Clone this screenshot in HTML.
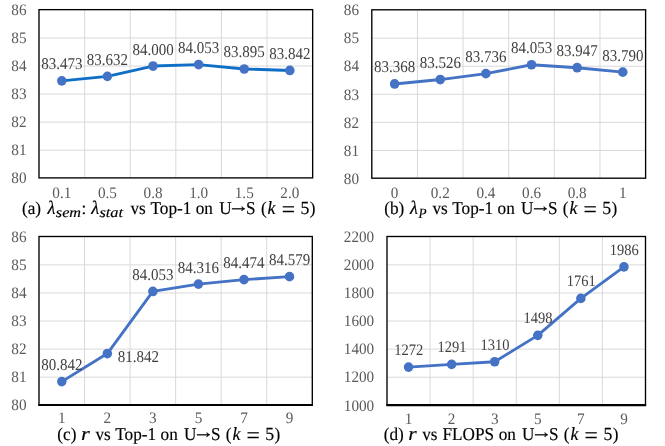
<!DOCTYPE html>
<html><head><meta charset="utf-8"><title>Charts</title>
<style>
html,body{margin:0;padding:0;background:#fff;}
svg{display:block;font-family:"Liberation Serif", "Times New Roman", serif;text-rendering:geometricPrecision;}
</style></head>
<body>
<svg width="665" height="446" viewBox="0 0 665 446">
<rect width="665" height="446" fill="#fff"/>
<line x1="39.00" y1="150.16" x2="312.65" y2="150.16" stroke="#d9d9d9" stroke-width="1"/>
<line x1="39.00" y1="122.12" x2="312.65" y2="122.12" stroke="#d9d9d9" stroke-width="1"/>
<line x1="39.00" y1="94.08" x2="312.65" y2="94.08" stroke="#d9d9d9" stroke-width="1"/>
<line x1="39.00" y1="66.03" x2="312.65" y2="66.03" stroke="#d9d9d9" stroke-width="1"/>
<line x1="39.00" y1="37.99" x2="312.65" y2="37.99" stroke="#d9d9d9" stroke-width="1"/>
<line x1="84.61" y1="9.65" x2="84.61" y2="177.90" stroke="#d9d9d9" stroke-width="1"/>
<line x1="130.22" y1="9.65" x2="130.22" y2="177.90" stroke="#d9d9d9" stroke-width="1"/>
<line x1="175.82" y1="9.65" x2="175.82" y2="177.90" stroke="#d9d9d9" stroke-width="1"/>
<line x1="221.43" y1="9.65" x2="221.43" y2="177.90" stroke="#d9d9d9" stroke-width="1"/>
<line x1="267.04" y1="9.65" x2="267.04" y2="177.90" stroke="#d9d9d9" stroke-width="1"/>
<text transform="translate(26.50,183.40) scale(1,1.05)" text-anchor="end" font-size="15.2" fill="#595959">80</text>
<text transform="translate(26.50,155.36) scale(1,1.05)" text-anchor="end" font-size="15.2" fill="#595959">81</text>
<text transform="translate(26.50,127.32) scale(1,1.05)" text-anchor="end" font-size="15.2" fill="#595959">82</text>
<text transform="translate(26.50,99.28) scale(1,1.05)" text-anchor="end" font-size="15.2" fill="#595959">83</text>
<text transform="translate(26.50,71.23) scale(1,1.05)" text-anchor="end" font-size="15.2" fill="#595959">84</text>
<text transform="translate(26.50,43.19) scale(1,1.05)" text-anchor="end" font-size="15.2" fill="#595959">85</text>
<text transform="translate(26.50,15.15) scale(1,1.05)" text-anchor="end" font-size="15.2" fill="#595959">86</text>
<text transform="translate(61.80,197.80) scale(1,1.05)" text-anchor="middle" font-size="15.2" fill="#595959">0.1</text>
<text transform="translate(107.41,197.80) scale(1,1.05)" text-anchor="middle" font-size="15.2" fill="#595959">0.5</text>
<text transform="translate(153.02,197.80) scale(1,1.05)" text-anchor="middle" font-size="15.2" fill="#595959">0.8</text>
<text transform="translate(198.63,197.80) scale(1,1.05)" text-anchor="middle" font-size="15.2" fill="#595959">1.0</text>
<text transform="translate(244.24,197.80) scale(1,1.05)" text-anchor="middle" font-size="15.2" fill="#595959">1.5</text>
<text transform="translate(289.85,197.80) scale(1,1.05)" text-anchor="middle" font-size="15.2" fill="#595959">2.0</text>
<polyline fill="none" stroke="#0f6fc6" stroke-width="2.85" stroke-linejoin="round" stroke-linecap="round" points="61.80,80.81 107.41,76.35 153.02,66.03 198.63,64.55 244.24,68.98 289.85,70.46"/>
<ellipse cx="61.80" cy="80.81" rx="4.75" ry="4.85" fill="#4472c4"/>
<ellipse cx="107.41" cy="76.35" rx="4.75" ry="4.85" fill="#4472c4"/>
<ellipse cx="153.02" cy="66.03" rx="4.75" ry="4.85" fill="#4472c4"/>
<ellipse cx="198.63" cy="64.55" rx="4.75" ry="4.85" fill="#4472c4"/>
<ellipse cx="244.24" cy="68.98" rx="4.75" ry="4.85" fill="#4472c4"/>
<ellipse cx="289.85" cy="70.46" rx="4.75" ry="4.85" fill="#4472c4"/>
<rect x="39.00" y="9.65" width="273.65" height="168.25" fill="none" stroke="#000" stroke-width="1.35"/>
<text transform="translate(61.80,69.31) scale(1,1.1)" text-anchor="middle" font-size="15.0" fill="#404040">83.473</text>
<text transform="translate(107.41,64.85) scale(1,1.1)" text-anchor="middle" font-size="15.0" fill="#404040">83.632</text>
<text transform="translate(153.02,54.53) scale(1,1.1)" text-anchor="middle" font-size="15.0" fill="#404040">84.000</text>
<text transform="translate(198.63,53.05) scale(1,1.1)" text-anchor="middle" font-size="15.0" fill="#404040">84.053</text>
<text transform="translate(244.24,57.48) scale(1,1.1)" text-anchor="middle" font-size="15.0" fill="#404040">83.895</text>
<text transform="translate(289.85,58.96) scale(1,1.1)" text-anchor="middle" font-size="15.0" fill="#404040">83.842</text>
<line x1="371.80" y1="150.43" x2="645.60" y2="150.43" stroke="#d9d9d9" stroke-width="1"/>
<line x1="371.80" y1="122.37" x2="645.60" y2="122.37" stroke="#d9d9d9" stroke-width="1"/>
<line x1="371.80" y1="94.30" x2="645.60" y2="94.30" stroke="#d9d9d9" stroke-width="1"/>
<line x1="371.80" y1="66.23" x2="645.60" y2="66.23" stroke="#d9d9d9" stroke-width="1"/>
<line x1="371.80" y1="38.17" x2="645.60" y2="38.17" stroke="#d9d9d9" stroke-width="1"/>
<line x1="417.43" y1="9.80" x2="417.43" y2="178.20" stroke="#d9d9d9" stroke-width="1"/>
<line x1="463.07" y1="9.80" x2="463.07" y2="178.20" stroke="#d9d9d9" stroke-width="1"/>
<line x1="508.70" y1="9.80" x2="508.70" y2="178.20" stroke="#d9d9d9" stroke-width="1"/>
<line x1="554.33" y1="9.80" x2="554.33" y2="178.20" stroke="#d9d9d9" stroke-width="1"/>
<line x1="599.97" y1="9.80" x2="599.97" y2="178.20" stroke="#d9d9d9" stroke-width="1"/>
<text transform="translate(359.00,183.70) scale(1,1.05)" text-anchor="end" font-size="15.2" fill="#595959">80</text>
<text transform="translate(359.00,155.63) scale(1,1.05)" text-anchor="end" font-size="15.2" fill="#595959">81</text>
<text transform="translate(359.00,127.57) scale(1,1.05)" text-anchor="end" font-size="15.2" fill="#595959">82</text>
<text transform="translate(359.00,99.50) scale(1,1.05)" text-anchor="end" font-size="15.2" fill="#595959">83</text>
<text transform="translate(359.00,71.43) scale(1,1.05)" text-anchor="end" font-size="15.2" fill="#595959">84</text>
<text transform="translate(359.00,43.37) scale(1,1.05)" text-anchor="end" font-size="15.2" fill="#595959">85</text>
<text transform="translate(359.00,15.30) scale(1,1.05)" text-anchor="end" font-size="15.2" fill="#595959">86</text>
<text transform="translate(394.62,198.20) scale(1,1.05)" text-anchor="middle" font-size="15.2" fill="#595959">0</text>
<text transform="translate(440.25,198.20) scale(1,1.05)" text-anchor="middle" font-size="15.2" fill="#595959">0.2</text>
<text transform="translate(485.88,198.20) scale(1,1.05)" text-anchor="middle" font-size="15.2" fill="#595959">0.4</text>
<text transform="translate(531.52,198.20) scale(1,1.05)" text-anchor="middle" font-size="15.2" fill="#595959">0.6</text>
<text transform="translate(577.15,198.20) scale(1,1.05)" text-anchor="middle" font-size="15.2" fill="#595959">0.8</text>
<text transform="translate(622.78,198.20) scale(1,1.05)" text-anchor="middle" font-size="15.2" fill="#595959">1</text>
<polyline fill="none" stroke="#4472c4" stroke-width="2.85" stroke-linejoin="round" stroke-linecap="round" points="394.62,83.97 440.25,79.54 485.88,73.64 531.52,64.75 577.15,67.72 622.78,72.13"/>
<ellipse cx="394.62" cy="83.97" rx="4.75" ry="4.85" fill="#4472c4"/>
<ellipse cx="440.25" cy="79.54" rx="4.75" ry="4.85" fill="#4472c4"/>
<ellipse cx="485.88" cy="73.64" rx="4.75" ry="4.85" fill="#4472c4"/>
<ellipse cx="531.52" cy="64.75" rx="4.75" ry="4.85" fill="#4472c4"/>
<ellipse cx="577.15" cy="67.72" rx="4.75" ry="4.85" fill="#4472c4"/>
<ellipse cx="622.78" cy="72.13" rx="4.75" ry="4.85" fill="#4472c4"/>
<rect x="371.80" y="9.80" width="273.80" height="168.40" fill="none" stroke="#000" stroke-width="1.35"/>
<text transform="translate(394.62,72.47) scale(1,1.1)" text-anchor="middle" font-size="15.0" fill="#404040">83.368</text>
<text transform="translate(440.25,68.04) scale(1,1.1)" text-anchor="middle" font-size="15.0" fill="#404040">83.526</text>
<text transform="translate(485.88,62.14) scale(1,1.1)" text-anchor="middle" font-size="15.0" fill="#404040">83.736</text>
<text transform="translate(531.52,53.25) scale(1,1.1)" text-anchor="middle" font-size="15.0" fill="#404040">84.053</text>
<text transform="translate(577.15,56.22) scale(1,1.1)" text-anchor="middle" font-size="15.0" fill="#404040">83.947</text>
<text transform="translate(622.78,60.63) scale(1,1.1)" text-anchor="middle" font-size="15.0" fill="#404040">83.790</text>
<line x1="39.00" y1="377.18" x2="312.30" y2="377.18" stroke="#d9d9d9" stroke-width="1"/>
<line x1="39.00" y1="349.10" x2="312.30" y2="349.10" stroke="#d9d9d9" stroke-width="1"/>
<line x1="39.00" y1="321.03" x2="312.30" y2="321.03" stroke="#d9d9d9" stroke-width="1"/>
<line x1="39.00" y1="292.95" x2="312.30" y2="292.95" stroke="#d9d9d9" stroke-width="1"/>
<line x1="39.00" y1="264.88" x2="312.30" y2="264.88" stroke="#d9d9d9" stroke-width="1"/>
<line x1="84.55" y1="236.50" x2="84.55" y2="404.95" stroke="#d9d9d9" stroke-width="1"/>
<line x1="130.10" y1="236.50" x2="130.10" y2="404.95" stroke="#d9d9d9" stroke-width="1"/>
<line x1="175.65" y1="236.50" x2="175.65" y2="404.95" stroke="#d9d9d9" stroke-width="1"/>
<line x1="221.20" y1="236.50" x2="221.20" y2="404.95" stroke="#d9d9d9" stroke-width="1"/>
<line x1="266.75" y1="236.50" x2="266.75" y2="404.95" stroke="#d9d9d9" stroke-width="1"/>
<text transform="translate(26.50,410.45) scale(1,1.05)" text-anchor="end" font-size="15.2" fill="#595959">80</text>
<text transform="translate(26.50,382.38) scale(1,1.05)" text-anchor="end" font-size="15.2" fill="#595959">81</text>
<text transform="translate(26.50,354.30) scale(1,1.05)" text-anchor="end" font-size="15.2" fill="#595959">82</text>
<text transform="translate(26.50,326.23) scale(1,1.05)" text-anchor="end" font-size="15.2" fill="#595959">83</text>
<text transform="translate(26.50,298.15) scale(1,1.05)" text-anchor="end" font-size="15.2" fill="#595959">84</text>
<text transform="translate(26.50,270.07) scale(1,1.05)" text-anchor="end" font-size="15.2" fill="#595959">85</text>
<text transform="translate(26.50,242.00) scale(1,1.05)" text-anchor="end" font-size="15.2" fill="#595959">86</text>
<text transform="translate(61.78,423.45) scale(1,1.05)" text-anchor="middle" font-size="15.2" fill="#595959">1</text>
<text transform="translate(107.33,423.45) scale(1,1.05)" text-anchor="middle" font-size="15.2" fill="#595959">2</text>
<text transform="translate(152.88,423.45) scale(1,1.05)" text-anchor="middle" font-size="15.2" fill="#595959">3</text>
<text transform="translate(198.43,423.45) scale(1,1.05)" text-anchor="middle" font-size="15.2" fill="#595959">5</text>
<text transform="translate(243.98,423.45) scale(1,1.05)" text-anchor="middle" font-size="15.2" fill="#595959">7</text>
<text transform="translate(289.53,423.45) scale(1,1.05)" text-anchor="middle" font-size="15.2" fill="#595959">9</text>
<polyline fill="none" stroke="#4472c4" stroke-width="2.85" stroke-linejoin="round" stroke-linecap="round" points="61.78,381.61 107.33,353.54 152.88,291.46 198.43,284.08 243.98,279.64 289.53,276.69"/>
<ellipse cx="61.78" cy="381.61" rx="4.75" ry="4.85" fill="#4472c4"/>
<ellipse cx="107.33" cy="353.54" rx="4.75" ry="4.85" fill="#4472c4"/>
<ellipse cx="152.88" cy="291.46" rx="4.75" ry="4.85" fill="#4472c4"/>
<ellipse cx="198.43" cy="284.08" rx="4.75" ry="4.85" fill="#4472c4"/>
<ellipse cx="243.98" cy="279.64" rx="4.75" ry="4.85" fill="#4472c4"/>
<ellipse cx="289.53" cy="276.69" rx="4.75" ry="4.85" fill="#4472c4"/>
<rect x="39.00" y="236.50" width="273.30" height="168.45" fill="none" stroke="#000" stroke-width="1.35"/>
<line x1="38.33" y1="405.00" x2="312.97" y2="405.00" stroke="#000" stroke-width="2.0"/>
<text transform="translate(61.78,370.11) scale(1,1.1)" text-anchor="middle" font-size="15.0" fill="#404040">80.842</text>
<text transform="translate(117.83,361.84) scale(1,1.1)" text-anchor="start" font-size="15.0" fill="#404040">81.842</text>
<text transform="translate(152.88,279.96) scale(1,1.1)" text-anchor="middle" font-size="15.0" fill="#404040">84.053</text>
<text transform="translate(198.43,272.58) scale(1,1.1)" text-anchor="middle" font-size="15.0" fill="#404040">84.316</text>
<text transform="translate(243.98,268.14) scale(1,1.1)" text-anchor="middle" font-size="15.0" fill="#404040">84.474</text>
<text transform="translate(289.53,265.19) scale(1,1.1)" text-anchor="middle" font-size="15.0" fill="#404040">84.579</text>
<line x1="387.00" y1="377.22" x2="645.50" y2="377.22" stroke="#d9d9d9" stroke-width="1"/>
<line x1="387.00" y1="349.13" x2="645.50" y2="349.13" stroke="#d9d9d9" stroke-width="1"/>
<line x1="387.00" y1="321.05" x2="645.50" y2="321.05" stroke="#d9d9d9" stroke-width="1"/>
<line x1="387.00" y1="292.97" x2="645.50" y2="292.97" stroke="#d9d9d9" stroke-width="1"/>
<line x1="387.00" y1="264.88" x2="645.50" y2="264.88" stroke="#d9d9d9" stroke-width="1"/>
<line x1="430.08" y1="236.50" x2="430.08" y2="405.00" stroke="#d9d9d9" stroke-width="1"/>
<line x1="473.17" y1="236.50" x2="473.17" y2="405.00" stroke="#d9d9d9" stroke-width="1"/>
<line x1="516.25" y1="236.50" x2="516.25" y2="405.00" stroke="#d9d9d9" stroke-width="1"/>
<line x1="559.33" y1="236.50" x2="559.33" y2="405.00" stroke="#d9d9d9" stroke-width="1"/>
<line x1="602.42" y1="236.50" x2="602.42" y2="405.00" stroke="#d9d9d9" stroke-width="1"/>
<text transform="translate(374.20,410.50) scale(1,1.05)" text-anchor="end" font-size="15.2" fill="#595959">1000</text>
<text transform="translate(374.20,382.42) scale(1,1.05)" text-anchor="end" font-size="15.2" fill="#595959">1200</text>
<text transform="translate(374.20,354.33) scale(1,1.05)" text-anchor="end" font-size="15.2" fill="#595959">1400</text>
<text transform="translate(374.20,326.25) scale(1,1.05)" text-anchor="end" font-size="15.2" fill="#595959">1600</text>
<text transform="translate(374.20,298.17) scale(1,1.05)" text-anchor="end" font-size="15.2" fill="#595959">1800</text>
<text transform="translate(374.20,270.08) scale(1,1.05)" text-anchor="end" font-size="15.2" fill="#595959">2000</text>
<text transform="translate(374.20,242.00) scale(1,1.05)" text-anchor="end" font-size="15.2" fill="#595959">2200</text>
<text transform="translate(408.54,424.20) scale(1,1.05)" text-anchor="middle" font-size="15.2" fill="#595959">1</text>
<text transform="translate(451.62,424.20) scale(1,1.05)" text-anchor="middle" font-size="15.2" fill="#595959">2</text>
<text transform="translate(494.71,424.20) scale(1,1.05)" text-anchor="middle" font-size="15.2" fill="#595959">3</text>
<text transform="translate(537.79,424.20) scale(1,1.05)" text-anchor="middle" font-size="15.2" fill="#595959">5</text>
<text transform="translate(580.88,424.20) scale(1,1.05)" text-anchor="middle" font-size="15.2" fill="#595959">7</text>
<text transform="translate(623.96,424.20) scale(1,1.05)" text-anchor="middle" font-size="15.2" fill="#595959">9</text>
<polyline fill="none" stroke="#4472c4" stroke-width="2.85" stroke-linejoin="round" stroke-linecap="round" points="408.54,367.11 451.62,364.44 494.71,361.77 537.79,335.37 580.88,298.44 623.96,266.85"/>
<ellipse cx="408.54" cy="367.11" rx="4.75" ry="4.85" fill="#4472c4"/>
<ellipse cx="451.62" cy="364.44" rx="4.75" ry="4.85" fill="#4472c4"/>
<ellipse cx="494.71" cy="361.77" rx="4.75" ry="4.85" fill="#4472c4"/>
<ellipse cx="537.79" cy="335.37" rx="4.75" ry="4.85" fill="#4472c4"/>
<ellipse cx="580.88" cy="298.44" rx="4.75" ry="4.85" fill="#4472c4"/>
<ellipse cx="623.96" cy="266.85" rx="4.75" ry="4.85" fill="#4472c4"/>
<rect x="387.00" y="236.50" width="258.50" height="168.50" fill="none" stroke="#000" stroke-width="1.35"/>
<line x1="386.33" y1="405.10" x2="646.17" y2="405.10" stroke="#000" stroke-width="2.1"/>
<text transform="translate(408.84,355.11) scale(1,1.1)" text-anchor="middle" font-size="14.5" fill="#404040">1272</text>
<text transform="translate(451.93,352.44) scale(1,1.1)" text-anchor="middle" font-size="14.5" fill="#404040">1291</text>
<text transform="translate(495.01,349.77) scale(1,1.1)" text-anchor="middle" font-size="14.5" fill="#404040">1310</text>
<text transform="translate(538.09,323.37) scale(1,1.1)" text-anchor="middle" font-size="14.5" fill="#404040">1498</text>
<text transform="translate(581.17,286.44) scale(1,1.1)" text-anchor="middle" font-size="14.5" fill="#404040">1761</text>
<text transform="translate(624.26,254.85) scale(1,1.1)" text-anchor="middle" font-size="14.5" fill="#404040">1986</text>
<text transform="translate(22.00,213.90) scale(1,1.05)" text-anchor="start" font-size="17.2" fill="#000" stroke="#000" stroke-width="0.15">(a)</text>
<text transform="translate(47.55,213.90) scale(1,1.05)" text-anchor="start" font-size="18.2" fill="#000" stroke="#000" stroke-width="0.15" font-style="italic">λ</text>
<text transform="translate(55.84,216.90) scale(1,1.05)" text-anchor="start" font-size="13.6" fill="#000" stroke="#000" stroke-width="0.15" font-style="italic" textLength="25.20" lengthAdjust="spacingAndGlyphs">sem</text>
<text transform="translate(81.59,213.90) scale(1,1.05)" text-anchor="start" font-size="17.2" fill="#000" stroke="#000" stroke-width="0.15">:</text>
<text transform="translate(91.25,213.90) scale(1,1.05)" text-anchor="start" font-size="18.2" fill="#000" stroke="#000" stroke-width="0.15" font-style="italic">λ</text>
<text transform="translate(99.39,216.90) scale(1,1.05)" text-anchor="start" font-size="13.6" fill="#000" stroke="#000" stroke-width="0.15" font-style="italic" textLength="23.67" lengthAdjust="spacingAndGlyphs">stat</text>
<text transform="translate(130.44,213.90) scale(1,1.05)" text-anchor="start" font-size="17.2" fill="#000" stroke="#000" stroke-width="0.15">vs</text>
<text transform="translate(150.51,213.90) scale(1,1.05)" text-anchor="start" font-size="17.2" fill="#000" stroke="#000" stroke-width="0.15">Top-1</text>
<text transform="translate(195.78,213.90) scale(1,1.05)" text-anchor="start" font-size="17.2" fill="#000" stroke="#000" stroke-width="0.15">on</text>
<text transform="translate(219.16,213.90) scale(1,1.05)" text-anchor="start" font-size="17.2" fill="#000" stroke="#000" stroke-width="0.15">U</text>
<text x="227.63" y="212.00" text-anchor="start" font-size="19.5" fill="#000" stroke="#000" stroke-width="0.15" textLength="21.86" lengthAdjust="spacingAndGlyphs">→</text>
<text transform="translate(246.08,213.90) scale(1,1.05)" text-anchor="start" font-size="17.2" fill="#000" stroke="#000" stroke-width="0.15">S</text>
<text transform="translate(260.90,213.90) scale(1,1.05)" text-anchor="start" font-size="17.2" fill="#000" stroke="#000" stroke-width="0.15">(</text>
<text transform="translate(267.59,213.90) scale(1,1.05)" text-anchor="start" font-size="17.8" fill="#000" stroke="#000" stroke-width="0.15" font-style="italic">k</text>
<text transform="translate(281.72,216.80) scale(1,1.38)" text-anchor="start" font-size="17.2" fill="#000" stroke="#000" stroke-width="0.15" textLength="13.32" lengthAdjust="spacingAndGlyphs">=</text>
<text transform="translate(300.52,213.90) scale(1,1.05)" text-anchor="start" font-size="17.8" fill="#000" stroke="#000" stroke-width="0.15">5</text>
<text transform="translate(309.82,213.90) scale(1,1.05)" text-anchor="start" font-size="17.2" fill="#000" stroke="#000" stroke-width="0.15">)</text>
<text transform="translate(384.27,213.90) scale(1,1.05)" text-anchor="start" font-size="17.2" fill="#000" stroke="#000" stroke-width="0.15">(b)</text>
<text transform="translate(409.95,213.90) scale(1,1.05)" text-anchor="start" font-size="18.2" fill="#000" stroke="#000" stroke-width="0.15" font-style="italic">λ</text>
<text transform="translate(418.60,217.70) scale(1,1.05)" text-anchor="start" font-size="13.5" fill="#000" stroke="#000" stroke-width="0.15" font-style="italic" textLength="8.08" lengthAdjust="spacingAndGlyphs">P</text>
<text transform="translate(432.44,213.90) scale(1,1.05)" text-anchor="start" font-size="17.2" fill="#000" stroke="#000" stroke-width="0.15">vs</text>
<text transform="translate(452.31,213.90) scale(1,1.05)" text-anchor="start" font-size="17.2" fill="#000" stroke="#000" stroke-width="0.15">Top-1</text>
<text transform="translate(497.58,213.90) scale(1,1.05)" text-anchor="start" font-size="17.2" fill="#000" stroke="#000" stroke-width="0.15">on</text>
<text transform="translate(520.96,213.90) scale(1,1.05)" text-anchor="start" font-size="17.2" fill="#000" stroke="#000" stroke-width="0.15">U</text>
<text x="529.43" y="212.00" text-anchor="start" font-size="19.5" fill="#000" stroke="#000" stroke-width="0.15" textLength="21.86" lengthAdjust="spacingAndGlyphs">→</text>
<text transform="translate(547.88,213.90) scale(1,1.05)" text-anchor="start" font-size="17.2" fill="#000" stroke="#000" stroke-width="0.15">S</text>
<text transform="translate(562.70,213.90) scale(1,1.05)" text-anchor="start" font-size="17.2" fill="#000" stroke="#000" stroke-width="0.15">(</text>
<text transform="translate(569.39,213.90) scale(1,1.05)" text-anchor="start" font-size="17.8" fill="#000" stroke="#000" stroke-width="0.15" font-style="italic">k</text>
<text transform="translate(583.52,216.80) scale(1,1.38)" text-anchor="start" font-size="17.2" fill="#000" stroke="#000" stroke-width="0.15" textLength="13.32" lengthAdjust="spacingAndGlyphs">=</text>
<text transform="translate(602.32,213.90) scale(1,1.05)" text-anchor="start" font-size="17.8" fill="#000" stroke="#000" stroke-width="0.15">5</text>
<text transform="translate(611.62,213.90) scale(1,1.05)" text-anchor="start" font-size="17.2" fill="#000" stroke="#000" stroke-width="0.15">)</text>
<text transform="translate(57.30,439.90) scale(1,1.05)" text-anchor="start" font-size="17.2" fill="#000" stroke="#000" stroke-width="0.15">(c)</text>
<text transform="translate(80.90,439.90) scale(1,1.05)" text-anchor="start" font-size="18" fill="#000" stroke="#000" stroke-width="0.15" font-style="italic" textLength="8.79" lengthAdjust="spacingAndGlyphs">r</text>
<text transform="translate(95.39,439.90) scale(1,1.05)" text-anchor="start" font-size="17.2" fill="#000" stroke="#000" stroke-width="0.15">vs</text>
<text transform="translate(115.31,439.90) scale(1,1.05)" text-anchor="start" font-size="17.2" fill="#000" stroke="#000" stroke-width="0.15">Top-1</text>
<text transform="translate(160.58,439.90) scale(1,1.05)" text-anchor="start" font-size="17.2" fill="#000" stroke="#000" stroke-width="0.15">on</text>
<text transform="translate(183.96,439.90) scale(1,1.05)" text-anchor="start" font-size="17.2" fill="#000" stroke="#000" stroke-width="0.15">U</text>
<text x="192.43" y="438.00" text-anchor="start" font-size="19.5" fill="#000" stroke="#000" stroke-width="0.15" textLength="21.86" lengthAdjust="spacingAndGlyphs">→</text>
<text transform="translate(210.88,439.90) scale(1,1.05)" text-anchor="start" font-size="17.2" fill="#000" stroke="#000" stroke-width="0.15">S</text>
<text transform="translate(225.70,439.90) scale(1,1.05)" text-anchor="start" font-size="17.2" fill="#000" stroke="#000" stroke-width="0.15">(</text>
<text transform="translate(232.39,439.90) scale(1,1.05)" text-anchor="start" font-size="17.8" fill="#000" stroke="#000" stroke-width="0.15" font-style="italic">k</text>
<text transform="translate(246.52,442.80) scale(1,1.38)" text-anchor="start" font-size="17.2" fill="#000" stroke="#000" stroke-width="0.15" textLength="13.32" lengthAdjust="spacingAndGlyphs">=</text>
<text transform="translate(265.32,439.90) scale(1,1.05)" text-anchor="start" font-size="17.8" fill="#000" stroke="#000" stroke-width="0.15">5</text>
<text transform="translate(274.62,439.90) scale(1,1.05)" text-anchor="start" font-size="17.2" fill="#000" stroke="#000" stroke-width="0.15">)</text>
<text transform="translate(383.67,439.90) scale(1,1.05)" text-anchor="start" font-size="17.2" fill="#000" stroke="#000" stroke-width="0.15">(d)</text>
<text transform="translate(408.13,439.90) scale(1,1.05)" text-anchor="start" font-size="18" fill="#000" stroke="#000" stroke-width="0.15" font-style="italic" textLength="8.45" lengthAdjust="spacingAndGlyphs">r</text>
<text transform="translate(422.24,439.90) scale(1,1.05)" text-anchor="start" font-size="17.2" fill="#000" stroke="#000" stroke-width="0.15">vs</text>
<text transform="translate(442.56,439.90) scale(1,1.05)" text-anchor="start" font-size="17.2" fill="#000" stroke="#000" stroke-width="0.15">FLOPS</text>
<text transform="translate(498.68,439.90) scale(1,1.05)" text-anchor="start" font-size="17.2" fill="#000" stroke="#000" stroke-width="0.15">on</text>
<text transform="translate(522.06,439.90) scale(1,1.05)" text-anchor="start" font-size="17.2" fill="#000" stroke="#000" stroke-width="0.15">U</text>
<text x="530.53" y="438.00" text-anchor="start" font-size="19.5" fill="#000" stroke="#000" stroke-width="0.15" textLength="21.86" lengthAdjust="spacingAndGlyphs">→</text>
<text transform="translate(548.98,439.90) scale(1,1.05)" text-anchor="start" font-size="17.2" fill="#000" stroke="#000" stroke-width="0.15">S</text>
<text transform="translate(563.80,439.90) scale(1,1.05)" text-anchor="start" font-size="17.2" fill="#000" stroke="#000" stroke-width="0.15">(</text>
<text transform="translate(570.49,439.90) scale(1,1.05)" text-anchor="start" font-size="17.8" fill="#000" stroke="#000" stroke-width="0.15" font-style="italic">k</text>
<text transform="translate(584.62,442.80) scale(1,1.38)" text-anchor="start" font-size="17.2" fill="#000" stroke="#000" stroke-width="0.15" textLength="13.32" lengthAdjust="spacingAndGlyphs">=</text>
<text transform="translate(603.42,439.90) scale(1,1.05)" text-anchor="start" font-size="17.8" fill="#000" stroke="#000" stroke-width="0.15">5</text>
<text transform="translate(612.72,439.90) scale(1,1.05)" text-anchor="start" font-size="17.2" fill="#000" stroke="#000" stroke-width="0.15">)</text>
</svg>
</body></html>
